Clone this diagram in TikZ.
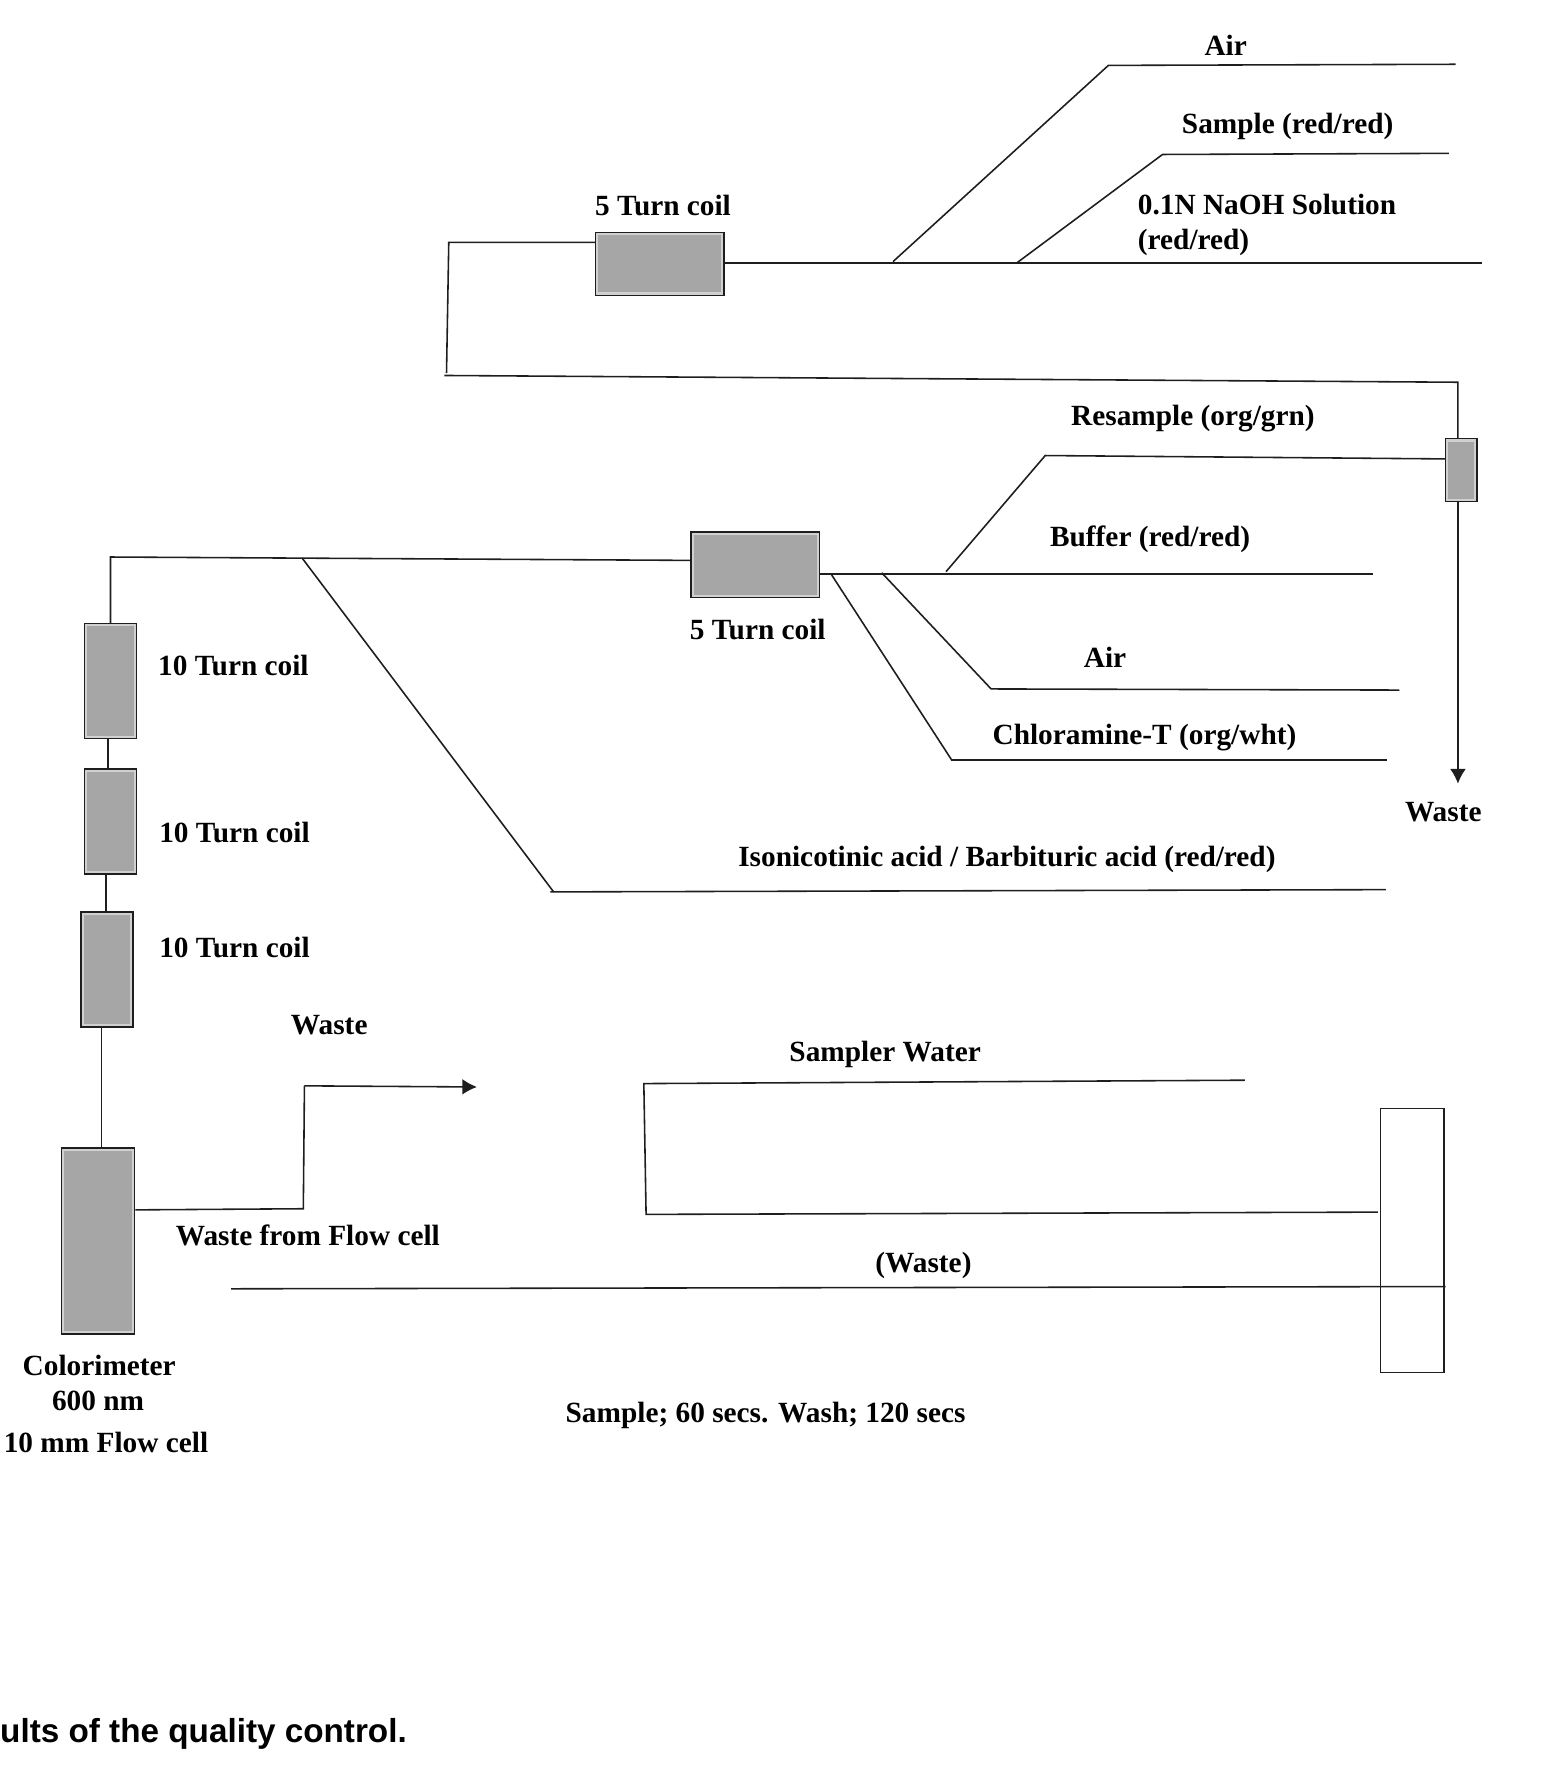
\documentclass[tikz,border=0pt]{standalone}
\usepackage{fontspec}
\setmainfont{Liberation Serif}
\newfontfamily\capfont{Liberation Sans}
\usetikzlibrary{arrows.meta}
\definecolor{boxgray}{HTML}{A6A6A6}
\definecolor{boxrim}{HTML}{D0D0D0}
\definecolor{inkline}{HTML}{1E1E1E}
\tikzset{
  coil/.style={rectangle, draw=inkline, line width=1.3pt, fill=boxrim, inner sep=0pt, outer sep=0pt,
    path picture={\fill[boxgray] ([shift={(2.6pt,-2.6pt)}]path picture bounding box.north west)
      rectangle ([shift={(-2.6pt,2.6pt)}]path picture bounding box.south east);}},
  pipe/.style={draw=inkline, line width=1.4pt, line join=miter},
  flow/.style={pipe, -{Latex[length=13pt,width=14pt]}},
  lab/.style={font=\fontsize{26}{30}\selectfont\bfseries, text=black, inner sep=0pt},
}
\begin{document}
\begin{tikzpicture}[x=1pt,y=-1pt]
  \useasboundingbox (0,0) rectangle (1370,1568);

  % coils and cells
  \node[coil, minimum width=114pt, minimum height=56pt] (top) at (585,234) {};
  \node[coil, minimum width=114pt, minimum height=58pt] (mid) at (670,501) {};
  \node[coil, minimum width=28pt, minimum height=56pt] (res) at (1296,417) {};
  \node[coil, minimum width=46pt, minimum height=102pt] (ca) at (98,604) {};
  \node[coil, minimum width=46pt, minimum height=93pt] (cb) at (98,728.5) {};
  \node[coil, minimum width=46pt, minimum height=102pt] (cc) at (95,860) {};
  \node[coil, minimum width=65pt, minimum height=165pt] (colo) at (87,1100.5) {};
  \node[draw=inkline, line width=1.2pt, minimum width=56pt, minimum height=234pt, inner sep=0pt, outer sep=0pt] (samp) at (1252.5,1100) {};

  % free ends and bends
  \coordinate (tE) at (1314,233);
  \coordinate (j1) at (792,232);
  \coordinate (j2) at (902,233);
  \coordinate (a1) at (983,58);
  \coordinate (a2) at (1291,57);
  \coordinate (s1) at (1031,137);
  \coordinate (s2) at (1285,136);
  \coordinate (tL) at (top.west |- 0,215);
  \coordinate (l1) at (398,215);
  \coordinate (l2) at (396,331);
  \coordinate (r1) at (394,333);
  \coordinate (r2) at (1293,339);
  \coordinate (rT) at (1293,389);
  \coordinate (rB) at (1293,445);
  \coordinate (wE) at (1293,695);
  \coordinate (rL) at (1282,407);
  \coordinate (q1) at (927,404);
  \coordinate (q2) at (839,507);
  \coordinate (mO) at (727,509);
  \coordinate (mE) at (1218,509);
  \coordinate (h1) at (782,508);
  \coordinate (h2) at (879,611);
  \coordinate (h3) at (1241,612);
  \coordinate (k1) at (737,509);
  \coordinate (k2) at (844,674);
  \coordinate (k3) at (1230,674);
  \coordinate (mL) at (613,497);
  \coordinate (n1) at (98,494);
  \coordinate (i1) at (268,495);
  \coordinate (i2) at (491,791);
  \coordinate (i0) at (488,791);
  \coordinate (i3) at (1229,789);
  \coordinate (f1) at (120,1073);
  \coordinate (f2) at (269,1072);
  \coordinate (f3) at (270,963);
  \coordinate (f4) at (423,964);
  \coordinate (w1) at (1104,958);
  \coordinate (w2) at (571,961);
  \coordinate (w3) at (573,1077);
  \coordinate (w4) at (1222,1075);
  \coordinate (x1) at (205,1143);
  \coordinate (x2) at (1282,1141);

  % connectors
  \draw[pipe] (top.east |- tE) -- (tE);
  \draw[pipe] (j1) -- (a1) -- (a2);
  \draw[pipe] (j2) -- (s1) -- (s2);
  \draw[pipe] (tL) -- (l1) -- (l2);
  \draw[pipe] (r1) -- (r2) -- (rT);
  \draw[flow] (rB) -- (wE);
  \draw[pipe] (rL) -- (q1) -- (q2);
  \draw[pipe] (mO) -- (mE);
  \draw[pipe] (h1) -- (h2) -- (h3);
  \draw[pipe] (k1) -- (k2) -- (k3);
  \draw[pipe] (mL) -- (n1) -- (ca.north);
  \draw[pipe] (i1) -- (i2);
  \draw[pipe] (i0) -- (i3);
  \draw[pipe] (ca.south -| 96,0) -- (cb.north -| 96,0);
  \draw[pipe] (cb.south -| 94,0) -- (cc.north -| 94,0);
  \draw[pipe] (cc.south -| 90,0) -- (colo.north -| 90,0);
  \draw[pipe] (f1) -- (f2) -- (f3);
  \draw[flow] (f3) -- (f4);
  \draw[pipe] (w1) -- (w2) -- (w3) -- (w4);
  \draw[pipe] (x1) -- (x2);

  % labels
  \node[lab] (t1) at (1087,40) {Air};
  \node[lab] (t2) at (1142,112) {Sample (red/red)};
  \node[lab, anchor=west] (t3) at (1009,181) {0.1N NaOH Solution};
  \node[lab, anchor=west] (t4) at (1009,215) {(red/red)};
  \node[lab] (t5) at (588,182) {5 Turn coil};
  \node[lab] (t6) at (1058,371) {Resample (org/grn)};
  \node[lab] (t7) at (1020,478) {Buffer (red/red)};
  \node[lab] (t8) at (672,558) {5 Turn coil};
  \node[lab] (t9) at (980,583) {Air};
  \node[lab] (t10) at (1015,654) {Chloramine-T (org/wht)};
  \node[lab] (t11) at (1280,720) {Waste};
  \node[lab] (t12) at (893,762) {Isonicotinic acid / Barbituric acid (red/red)};
  \node[lab] (t13) at (207,590) {10 Turn coil};
  \node[lab] (t14) at (208,738) {10 Turn coil};
  \node[lab] (t15) at (208,840) {10 Turn coil};
  \node[lab] (t16) at (292,909) {Waste};
  \node[lab] (t17) at (785,935) {Sampler Water};
  \node[lab] (t18) at (273,1096) {Waste from Flow cell};
  \node[lab] (t19) at (819,1122) {(Waste)};
  \node[lab] (t20) at (88,1211) {Colorimeter};
  \node[lab] (t21) at (87,1242) {600 nm};
  \node[lab] (t22) at (94,1279) {10 mm Flow cell};
  \node[lab] (t23) at (679,1255) {Sample; 60 secs. Wash; 120 secs};
  \node[anchor=base west, inner sep=0pt, font=\capfont\fontsize{29.5}{34}\selectfont\bfseries] (cap) at (0,1545) {ults of the quality control.};
\end{tikzpicture}
\end{document}
